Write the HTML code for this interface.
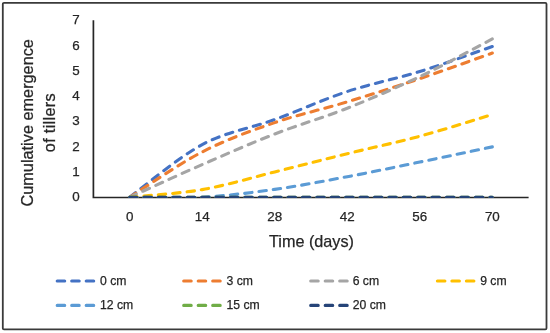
<!DOCTYPE html>
<html><head><meta charset="utf-8"><style>
html,body{margin:0;padding:0;background:#fff;}
body{width:550px;height:333px;overflow:hidden;}
svg{display:block;}
text{font-family:"Liberation Sans",Arial,sans-serif;fill:#262626;stroke:#262626;stroke-width:0.25px;}
.yt text{font-size:13.4px;text-anchor:end;}
.xt text{font-size:13.4px;text-anchor:middle;}
.lg text{font-size:12.2px;}
.ser path,.lgm path{fill:none;stroke-width:3.1;stroke-dasharray:7.4 7.0;stroke-linecap:round;stroke-linejoin:round;}
.lgm path{stroke-dasharray:7.5 7.0;}
</style></head><body>
<svg width="550" height="333" viewBox="0 0 550 333">
<rect x="0" y="0" width="550" height="333" fill="#fff"/>
<rect x="2.8" y="2.9" width="543.7" height="326.5" rx="1.2" ry="1.2" fill="#fff" stroke="#3a3a3a" stroke-width="1.8"/>
<g class="yt"><text x="79.6" y="201.30">0</text><text x="79.6" y="176.01">1</text><text x="79.6" y="150.73">2</text><text x="79.6" y="125.44">3</text><text x="79.6" y="100.16">4</text><text x="79.6" y="74.87">5</text><text x="79.6" y="49.59">6</text><text x="79.6" y="24.30">7</text></g>
<g class="xt"><text x="129.67" y="221.0">0</text><text x="202.20" y="221.0">14</text><text x="274.73" y="221.0">28</text><text x="347.27" y="221.0">42</text><text x="419.80" y="221.0">56</text><text x="492.33" y="221.0">70</text></g>
<text x="311.5" y="246.6" style="font-size:16.2px;text-anchor:middle">Time (days)</text>
<g transform="translate(33.3,122.8) rotate(-90)"><text x="0" y="0" style="font-size:16.3px;text-anchor:middle">Cumulative emergence</text></g>
<g transform="translate(55.3,122.6) rotate(-90)"><text x="0" y="0" style="font-size:16.3px;letter-spacing:0.3px;text-anchor:middle">of tillers</text></g>
<path d="M93.4 20.2 V197.5 H528.6" fill="none" stroke="#262626" stroke-width="1.7"/>
<clipPath id="pa"><rect x="93" y="0" width="440" height="197.9"/></clipPath>
<g class="ser" clip-path="url(#pa)"><path d="M129.67 197.20 C141.76 188.43 178.02 157.54 202.20 144.61 C226.38 131.67 250.56 128.42 274.73 119.57 C298.91 110.72 323.09 99.51 347.27 91.51 C371.44 83.50 395.62 79.03 419.80 71.53 C443.98 64.03 480.24 50.67 492.33 46.50" stroke="#4472C4"/>
<path d="M129.67 197.20 C141.76 189.66 178.02 164.37 202.20 151.94 C226.38 139.51 250.56 130.95 274.73 122.61 C298.91 114.26 323.09 109.21 347.27 101.87 C371.44 94.54 395.62 86.74 419.80 78.61 C443.98 70.48 480.24 57.33 492.33 53.07" stroke="#ED7D31"/>
<path d="M129.67 197.20 C141.76 191.76 178.02 175.12 202.20 164.58 C226.38 154.05 250.56 143.38 274.73 133.99 C298.91 124.59 323.09 117.76 347.27 108.19 C371.44 98.63 395.62 88.13 419.80 76.59 C443.98 65.04 480.24 45.19 492.33 38.91" stroke="#A5A5A5"/>
<path d="M129.67 197.20 C141.76 195.94 178.02 193.83 202.20 189.61 C226.38 185.40 250.56 177.90 274.73 171.91 C298.91 165.93 323.09 159.65 347.27 153.71 C371.44 147.77 395.62 142.79 419.80 136.26 C443.98 129.73 480.24 118.14 492.33 114.52" stroke="#FFC000"/>
<path d="M129.67 197.20 C141.76 197.20 178.02 198.51 202.20 197.20 C226.38 195.89 250.56 192.77 274.73 189.36 C298.91 185.95 323.09 181.27 347.27 176.72 C371.44 172.17 395.62 167.03 419.80 162.05 C443.98 157.08 480.24 149.41 492.33 146.88" stroke="#5B9BD5"/>
<path d="M129.67 197.20 C141.76 197.20 178.02 197.20 202.20 197.20 C226.38 197.20 250.56 197.20 274.73 197.20 C298.91 197.20 323.09 197.20 347.27 197.20 C371.44 197.20 395.62 197.20 419.80 197.20 C443.98 197.20 480.24 197.20 492.33 197.20" stroke="#70AD47"/>
<path d="M129.67 197.20 C141.76 197.20 178.02 197.20 202.20 197.20 C226.38 197.20 250.56 197.20 274.73 197.20 C298.91 197.20 323.09 197.20 347.27 197.20 C371.44 197.20 395.62 197.20 419.80 197.20 C443.98 197.20 480.24 197.20 492.33 197.20" stroke="#264478"/></g>
<g class="lgm"><path d="M57.20 281.00 h39.3" stroke="#4472C4"/><path d="M183.70 281.00 h39.3" stroke="#ED7D31"/><path d="M310.70 281.00 h39.3" stroke="#A5A5A5"/><path d="M437.40 281.00 h39.3" stroke="#FFC000"/><path d="M57.20 305.40 h39.3" stroke="#5B9BD5"/><path d="M183.70 305.40 h39.3" stroke="#70AD47"/><path d="M310.70 305.40 h39.3" stroke="#264478"/></g>
<g class="lg"><text x="100.00" y="285.00">0 cm</text><text x="226.50" y="285.00">3 cm</text><text x="352.70" y="285.00">6 cm</text><text x="480.20" y="285.00">9 cm</text><text x="100.00" y="309.40">12 cm</text><text x="226.50" y="309.40">15 cm</text><text x="352.70" y="309.40">20 cm</text></g>
</svg>
</body></html>
